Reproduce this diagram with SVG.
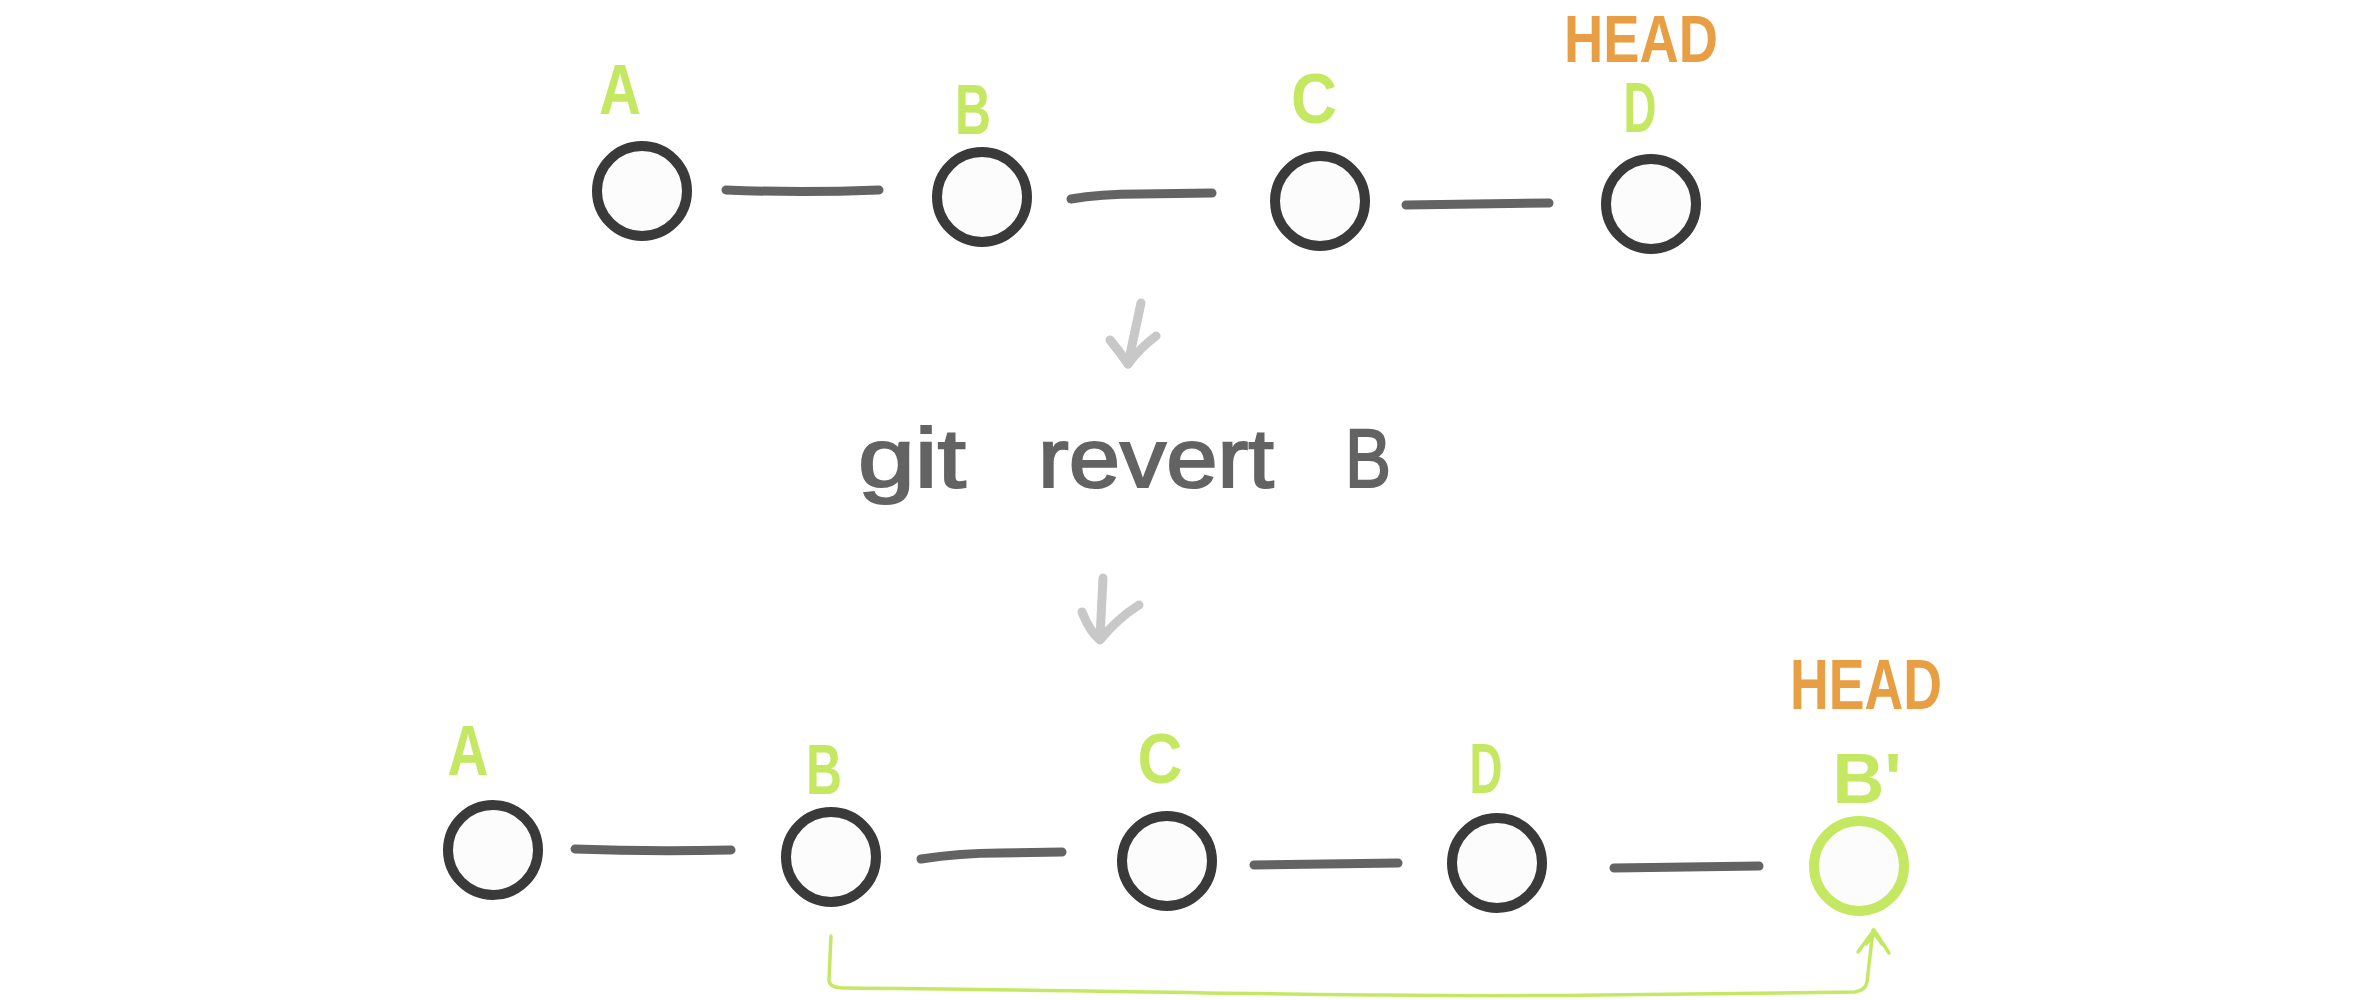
<svg xmlns="http://www.w3.org/2000/svg" width="2368" height="1000" viewBox="0 0 2368 1000">
<style>
.c{fill:#fcfcfc;stroke:#3a3a3a;stroke-width:10}
.cg{fill:#fcfcfc;stroke:#c5e862;stroke-width:10}
.ln{fill:none;stroke:#636363;stroke-width:9;stroke-linecap:round;stroke-linejoin:round}
.ar{fill:none;stroke:#c8c8c8;stroke-width:9;stroke-linecap:round;stroke-linejoin:round}
.gl{fill:none;stroke:#c5e862;stroke-width:3.5;stroke-linecap:round;stroke-linejoin:round}
.lb{font-family:"Liberation Sans",Arial,sans-serif;font-weight:bold;font-size:70px;fill:#c5e862;text-anchor:middle}
.hd{font-family:"Liberation Sans",Arial,sans-serif;font-weight:bold;font-size:70px;fill:#e89e42}
.cmd{font-family:"Liberation Sans",Arial,sans-serif;font-size:84px;fill:#636363;stroke:#636363;stroke-width:2}
</style>
<rect width="2368" height="1000" fill="#ffffff"/>
<g id="connectors">
<path class="ln" d="M726 190 Q800 193 879 190"/>
<path class="ln" d="M1071 199 Q1100 194 1140 194 L1212 193"/>
<path class="ln" d="M1406 205 L1549 203"/>
<path class="ar" d="M1141 303 L1128 364"/>
<path class="ar" d="M1110 340 Q1120 352 1128 364 Q1140 348 1156 336"/>
<path class="ar" d="M1103 578 L1100 638"/>
<path class="ar" d="M1082 612 Q1090 632 1100 640 Q1118 618 1139 605"/>
<path class="ln" d="M575 849 Q650 852 731 850"/>
<path class="ln" d="M921 859 Q960 853 1000 853 L1062 852"/>
<path class="ln" d="M1254 865 L1398 863"/>
<path class="ln" d="M1614 868 L1759 866"/>
<path class="gl" d="M831 936 L829 980 Q829 988 845 988 C 1100 990, 1400 998, 1600 995 L1855 992 Q1866 990 1867 982 L1873 930"/>
<path class="gl" d="M1858 952 L1874 930 L1889 953"/>
<path class="gl" d="M1866 944 L1875 934 L1882 944"/>
</g>
<g id="top-A"><circle class="c" cx="642" cy="191" r="45"/><text class="lb" x="620" y="114" textLength="42" lengthAdjust="spacingAndGlyphs">A</text></g>
<g id="top-B"><circle class="c" cx="982" cy="197" r="45"/><text class="lb" x="973" y="134" textLength="36" lengthAdjust="spacingAndGlyphs">B</text></g>
<g id="top-C"><circle class="c" cx="1320" cy="201" r="45"/><text class="lb" x="1314" y="123" textLength="46" lengthAdjust="spacingAndGlyphs">C</text></g>
<g id="top-D"><circle class="c" cx="1651" cy="204" r="45"/><text class="lb" x="1640" y="132" textLength="33" lengthAdjust="spacingAndGlyphs">D</text></g>
<g id="top-HEAD"><text class="hd" x="1564" y="62" style="font-size:66px" textLength="154" lengthAdjust="spacingAndGlyphs">HEAD</text></g>
<g id="command"><text class="cmd" y="487"><tspan x="858" textLength="108" lengthAdjust="spacingAndGlyphs">git</tspan><tspan x="1038" textLength="236" lengthAdjust="spacingAndGlyphs">revert</tspan><tspan x="1345" textLength="46" lengthAdjust="spacingAndGlyphs">B</tspan></text></g>
<g id="bot-A"><circle class="c" cx="493" cy="850" r="45"/><text class="lb" x="468" y="775" textLength="41" lengthAdjust="spacingAndGlyphs">A</text></g>
<g id="bot-B"><circle class="c" cx="831" cy="857" r="45"/><text class="lb" x="824" y="794" textLength="36" lengthAdjust="spacingAndGlyphs">B</text></g>
<g id="bot-C"><circle class="c" cx="1167" cy="861" r="45"/><text class="lb" x="1160" y="783" textLength="45" lengthAdjust="spacingAndGlyphs">C</text></g>
<g id="bot-D"><circle class="c" cx="1497" cy="863" r="45"/><text class="lb" x="1486" y="793" textLength="33" lengthAdjust="spacingAndGlyphs">D</text></g>
<g id="bot-Bprime"><circle class="cg" cx="1859" cy="866" r="45"/><text class="lb" x="1867" y="803" textLength="69" lengthAdjust="spacingAndGlyphs">B'</text></g>
<g id="bot-HEAD"><text class="hd" x="1790" y="709" textLength="152" lengthAdjust="spacingAndGlyphs">HEAD</text></g>
</svg>
